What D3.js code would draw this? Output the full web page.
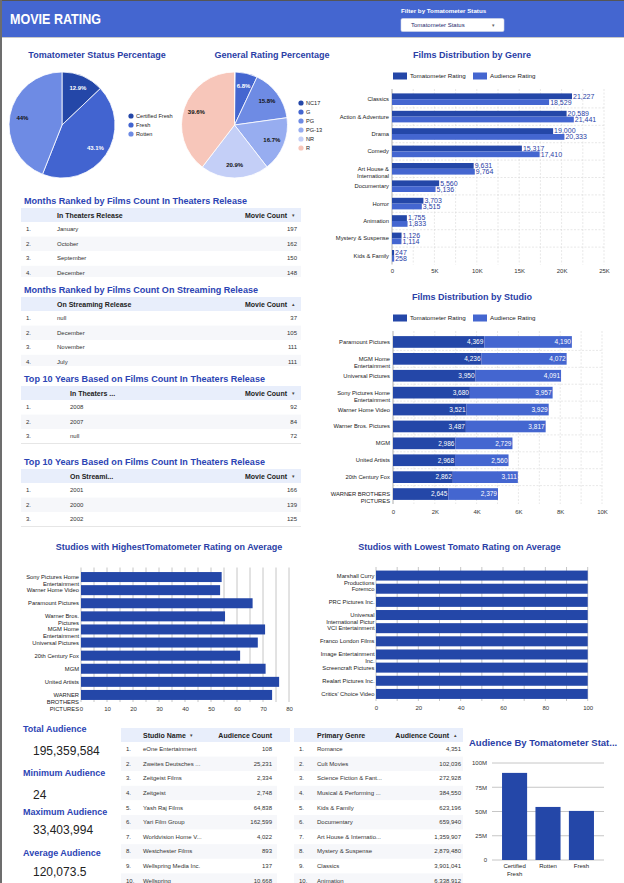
<!DOCTYPE html>
<html>
<head>
<meta charset="utf-8">
<title>Movie Rating</title>
<script src="https://cdn.jsdelivr.net/npm/d3@7"></script>
<style>
  body { margin: 0; background: #fff; }
  svg { display: block; font-family: "Liberation Sans", Arial, sans-serif; }
</style>
</head>
<body>
<div id="dash"></div>
<script>
// ---------- data
const tomatoStatus = ["Certified Fresh", "Fresh", "Rotten"];
const tomatoShare = [12.9, 43.1, 44];

const ratingNames = ["NC17", "G", "PG", "PG-13", "NR", "R"];
const ratingShare = [0.2, 6.8, 15.8, 16.7, 20.9, 39.6];

const genreNames = ["Classics", "Action & Adventure", "Drama", "Comedy", "Art House & International",
  "Documentary", "Horror", "Animation", "Mystery & Suspense", "Kids & Family"];
const genreTomato = [21227, 20589, 19000, 15317, 9631, 5560, 3703, 1755, 1126, 247];
const genreAudience = [18529, 21441, 20333, 17410, 9764, 5136, 3515, 1833, 1114, 258];

const studioNames = ["Paramount Pictures", "MGM Home Entertainment", "Universal Pictures",
  "Sony Pictures Home Entertainment", "Warner Home Video", "Warner Bros. Pictures", "MGM",
  "United Artists", "20th Century Fox", "WARNER BROTHERS PICTURES"];
const studioTomato = [4369, 4236, 3950, 3680, 3521, 3487, 2986, 2968, 2862, 2645];
const studioAudience = [4190, 4072, 4091, 3957, 3929, 3817, 2729, 2560, 3111, 2379];

const theaterMonths = ["January", "October", "September", "December"];
const theaterMonthCount = [197, 162, 150, 148];
const streamMonths = ["null", "December", "November", "July"];
const streamMonthCount = [37, 105, 111, 111];
const theaterYears = ["2008", "2007", "null"];
const theaterYearCount = [92, 84, 72];
const streamYears = ["2001", "2000", "2002"];
const streamYearCount = [166, 139, 125];

const highStudios = ["Sony Pictures Home Entertainment", "Warner Home Video", "Paramount Pictures",
  "Warner Bros. Pictures", "MGM Home Entertainment", "Universal Pictures", "20th Century Fox",
  "MGM", "United Artists", "WARNER BROTHERS PICTURES"];
const highAvg = [54.1, 53.5, 66.0, 55.4, 70.8, 68.0, 61.2, 71.0, 76.2, 73.5];

const lowStudios = ["Marshall Curry Productions", "Foremco", "PRC Pictures Inc.",
  "Universal International Pictur", "VCI Entertainment", "Franco London Films",
  "Image Entertainment Inc.", "Screencraft Pictures", "Realart Pictures Inc.", "Critics' Choice Video"];
const lowAvg = [100, 100, 100, 100, 100, 100, 100, 100, 100, 100];

const kpiNames = ["Total Audience", "Minimum Audience", "Maximum Audience", "Average Audience"];
const kpiValues = [195359584, 24, 33403994, 120073.5];

const tableStudios = ["eOne Entertainment", "Zweites Deutsches ...", "Zeitgeist Films", "Zeitgeist",
  "Yash Raj Films", "Yari Film Group", "Worldvision Home V...", "Westchester Films",
  "Wellspring Media Inc.", "Wellspring"];
const tableStudioAudience = [108, 25231, 2334, 2748, 64838, 162599, 4022, 893, 137, 10668];

const tableGenres = ["Romance", "Cult Movies", "Science Fiction & Fant...", "Musical & Performing ...",
  "Kids & Family", "Documentary", "Art House & Internatio...", "Mystery & Suspense", "Classics", "Animation"];
const tableGenreAudience = [4351, 102036, 272928, 384550, 623196, 659940, 1359907, 2879480, 3901041, 6338912];

const audStatus = ["Certified Fresh", "Rotten", "Fresh"];
const audValues = [89.8e6, 54.7e6, 50.6e6];

// ---------- setup
const svg = d3.select("#dash").append("svg").attr("width", 624).attr("height", 883);
const dark = "#2447a8", light = "#4466d0";
const chartTitle = "#2a3ea6", tableTitle = "#2c44b4";
const fmt = d3.format(",");

function wrap(sel, width, lh) {
  sel.each(function () {
    const t = d3.select(this);
    const words = t.text().split(/\s+/);
    const x = t.attr("x"), y = +t.attr("y");
    t.text(null);
    let line = [], n = 0;
    let ts = t.append("tspan").attr("x", x).attr("y", y);
    for (const w of words) {
      line.push(w);
      ts.text(line.join(" "));
      if (line.length > 1 && ts.node().getComputedTextLength() > width) {
        line.pop();
        ts.text(line.join(" "));
        line = [w];
        n++;
        ts = t.append("tspan").attr("x", x).attr("y", y + n * lh).text(w);
      }
    }
  });
}

function title(x, y, txt, anchor) {
  svg.append("text").attr("x", x).attr("y", y).attr("text-anchor", anchor || "middle")
    .attr("font-size", 9).attr("font-weight", "bold").attr("fill", chartTitle).text(txt);
}

function cleanAxis(g) {
  g.attr("font-family", null).attr("color", "#333");
  g.select(".domain").remove();
  g.selectAll("text").attr("font-size", 6);
}

// ---------- header
svg.append("rect").attr("width", 624).attr("height", 37).attr("fill", light);
svg.append("rect").attr("y", 37).attr("width", 624).attr("height", 1).attr("fill", "#c8c8c8");
svg.append("rect").attr("width", 624).attr("height", 1).attr("fill", "#555");
svg.append("rect").attr("width", 2).attr("height", 883).attr("fill", "#6d6d6d");
svg.append("text").attr("x", 10).attr("y", 24).attr("fill", "#fff").attr("font-size", 15)
  .attr("font-weight", "bold").attr("textLength", 91).attr("lengthAdjust", "spacingAndGlyphs").text("MOVIE RATING");
svg.append("text").attr("x", 401).attr("y", 13).attr("fill", "#fff").attr("font-size", 6.2)
  .attr("font-weight", "bold").text("Filter by Tomatometer Status");
svg.append("rect").attr("x", 401).attr("y", 18.5).attr("width", 103).attr("height", 13).attr("rx", 1.5)
  .attr("fill", "#fff").attr("stroke", "#d5d9e6").attr("stroke-width", 0.6);
svg.append("text").attr("x", 411).attr("y", 27.3).attr("fill", "#1c2a6e").attr("font-size", 6).text("Tomatometer Status");
svg.append("text").attr("x", 492).attr("y", 27).attr("fill", "#666").attr("font-size", 5).text("▾");

// ---------- pies
function pie(cx, cy, r, names, vals, colors, textCol, legX, legY, legStep) {
  const g = svg.append("g").attr("transform", `translate(${cx},${cy})`);
  const arcs = d3.pie().sort(null).value(d => d)(vals);
  const arc = d3.arc().innerRadius(0).outerRadius(r);
  const lab = d3.arc().innerRadius(r * 0.76).outerRadius(r * 0.76);
  g.selectAll("path").data(arcs).join("path")
    .attr("d", arc).attr("fill", (d, i) => colors[i]).attr("stroke", "#fff").attr("stroke-width", 0.8);
  g.selectAll("text").data(arcs.filter(d => d.data >= 1)).join("text")
    .attr("transform", d => `translate(${lab.centroid(d)})`)
    .attr("text-anchor", "middle").attr("dy", "0.35em").attr("font-size", 6).attr("font-weight", "bold")
    .attr("fill", d => textCol[d.index]).text(d => d.data + "%");
  const lg = svg.append("g");
  names.forEach((n, i) => {
    lg.append("circle").attr("cx", legX).attr("cy", legY + i * legStep).attr("r", 2.6).attr("fill", colors[i]);
    lg.append("text").attr("x", legX + 5).attr("y", legY + i * legStep + 2).attr("font-size", 5.6)
      .attr("fill", "#222").text(n);
  });
}

title(97, 58, "Tomatometer Status Percentage");
pie(62, 125, 53, tomatoStatus, tomatoShare, [dark, "#4264d0", "#6e8be4"], ["#fff", "#fff", "#111"], 131, 116, 9);

title(272, 58, "General Rating Percentage");
pie(234.5, 125, 53, ratingNames, ratingShare,
  [dark, light, "#6e8be4", "#97adf0", "#c4cff7", "#f7c6ba"],
  ["#fff", "#fff", "#111", "#111", "#111", "#111"], 301, 103, 9);

// ---------- grouped / stacked horizontal bars
function legend2(y) {
  [["Tomatometer Rating", dark, 393], ["Audience Rating", light, 473]].forEach(([t, c, x]) => {
    svg.append("rect").attr("x", x).attr("y", y - 3.5).attr("width", 14).attr("height", 7).attr("fill", c);
    svg.append("text").attr("x", x + 17).attr("y", y + 2.2).attr("font-size", 6.2).attr("fill", "#222").text(t);
  });
}

function dashedGrid(x, y, ticks, top, bottom, left, right) {
  const g = svg.append("g").attr("stroke", "#d6d6d6").attr("stroke-width", 0.6).attr("stroke-dasharray", "2,1.5");
  g.selectAll("line.v").data(ticks).join("line").attr("class", "v")
    .attr("x1", d => x(d)).attr("x2", d => x(d)).attr("y1", top).attr("y2", bottom);
  g.selectAll("line.h").data(y.domain().slice(1)).join("line").attr("class", "h")
    .attr("x1", left).attr("x2", right).attr("y1", d => y(d)).attr("y2", d => y(d));
  svg.append("line").attr("x1", left).attr("x2", left).attr("y1", top).attr("y2", bottom)
    .attr("stroke", "#999").attr("stroke-width", 0.8);
}

function yLabels(y, names, xr, maxW) {
  svg.append("g").selectAll("text").data(names).join("text")
    .attr("x", xr).attr("y", d => y(d) + y.bandwidth() / 2 + 2)
    .attr("text-anchor", "end").attr("font-size", 5.8).attr("fill", "#222").text(d => d)
    .call(wrap, maxW, 7);
}

// Films Distribution by Genre
title(472, 58, "Films Distribution by Genre");
legend2(76);
{
  const x = d3.scaleLinear().domain([0, 25000]).range([392, 604]);
  const y = d3.scaleBand().domain(genreNames).range([90.5, 264.5]);
  const bh = 5.8;
  dashedGrid(x, y, d3.range(2500, 25001, 2500), 89, 264.5, 392, 604);
  const rows = svg.append("g").selectAll("g").data(genreNames).join("g");
  rows.append("rect").attr("x", x(0)).attr("y", d => y(d) + y.bandwidth() / 2 - bh)
    .attr("width", (d, i) => x(genreTomato[i]) - x(0)).attr("height", bh).attr("fill", dark);
  rows.append("rect").attr("x", x(0)).attr("y", d => y(d) + y.bandwidth() / 2)
    .attr("width", (d, i) => x(genreAudience[i]) - x(0)).attr("height", bh).attr("fill", light);
  rows.append("text").attr("x", (d, i) => x(genreTomato[i]) + 1).attr("y", d => y(d) + y.bandwidth() / 2 - 0.6)
    .attr("font-size", 7).attr("fill", chartTitle).text((d, i) => fmt(genreTomato[i]));
  rows.append("text").attr("x", (d, i) => x(genreAudience[i]) + 1).attr("y", d => y(d) + y.bandwidth() / 2 + 5.4)
    .attr("font-size", 7).attr("fill", chartTitle).text((d, i) => fmt(genreAudience[i]));
  yLabels(y, genreNames, 389, 58);
  svg.append("g").attr("transform", "translate(0,264)")
    .call(d3.axisBottom(x).tickValues(d3.range(0, 25001, 5000)).tickFormat(d => d ? d / 1000 + "K" : "0").tickSize(0).tickPadding(5))
    .call(cleanAxis);
}

// Films Distribution by Studio
title(472, 300, "Films Distribution by Studio");
legend2(318);
{
  const x = d3.scaleLinear().domain([0, 10000]).range([393, 602]);
  const y = d3.scaleBand().domain(studioNames).range([333.5, 502.5]);
  const bh = 11.7;
  dashedGrid(x, y, d3.range(1000, 10001, 1000), 331, 504, 393, 602);
  const rows = svg.append("g").selectAll("g").data(studioNames).join("g");
  rows.append("rect").attr("x", x(0)).attr("y", d => y(d) + y.bandwidth() / 2 - bh / 2)
    .attr("width", (d, i) => x(studioTomato[i]) - x(0)).attr("height", bh).attr("fill", dark);
  rows.append("rect").attr("x", (d, i) => x(studioTomato[i])).attr("y", d => y(d) + y.bandwidth() / 2 - bh / 2)
    .attr("width", (d, i) => x(studioTomato[i] + studioAudience[i]) - x(studioTomato[i])).attr("height", bh).attr("fill", light);
  rows.append("text").attr("x", (d, i) => x(studioTomato[i]) - 1).attr("y", d => y(d) + y.bandwidth() / 2 + 2.3)
    .attr("text-anchor", "end").attr("font-size", 6.5).attr("fill", "#fff").text((d, i) => fmt(studioTomato[i]));
  rows.append("text").attr("x", (d, i) => x(studioTomato[i] + studioAudience[i]) - 1).attr("y", d => y(d) + y.bandwidth() / 2 + 2.3)
    .attr("text-anchor", "end").attr("font-size", 6.5).attr("fill", "#fff").text((d, i) => fmt(studioAudience[i]));
  yLabels(y, studioNames, 390, 62);
  svg.append("g").attr("transform", "translate(0,504)")
    .call(d3.axisBottom(x).tickValues(d3.range(0, 10001, 2000)).tickFormat(d => d ? d / 1000 + "K" : "0").tickSize(0).tickPadding(5.5))
    .call(cleanAxis);
}

// ---------- tables
function table(c) {
  const g = svg.append("g");
  if (c.title) g.append("text").attr("x", c.x + 3).attr("y", c.top - 4.5).attr("fill", tableTitle)
    .attr("font-size", 9.8).attr("font-weight", "bold").attr("textLength", c.titleW).attr("lengthAdjust", "spacingAndGlyphs").text(c.title);
  const id = "clip" + Math.round(c.top) + "_" + c.x;
  svg.append("clipPath").attr("id", id).append("rect").attr("x", c.x).attr("y", c.top)
    .attr("width", c.w).attr("height", c.bottom - c.top);
  const b = g.append("g").attr("clip-path", `url(#${id})`);
  b.append("rect").attr("x", c.x).attr("y", c.top).attr("width", c.w).attr("height", 14).attr("fill", "#e8eefb");
  b.append("text").attr("x", c.nameX).attr("y", c.top + 9.5).attr("font-size", 7).attr("font-weight", "bold")
    .attr("fill", "#222").text(c.head1);
  b.append("text").attr("x", c.headValX).attr("y", c.top + 9.5).attr("text-anchor", "end").attr("font-size", 7)
    .attr("font-weight", "bold").attr("fill", "#222").text(c.head2);
  if (c.arrowX) b.append("text").attr("x", c.arrowX).attr("y", c.top + 9.3).attr("text-anchor", "middle")
    .attr("font-size", 5).attr("fill", "#444").text(c.arrow);
  const rows = b.selectAll("g.row").data(c.names).join("g").attr("class", "row")
    .attr("transform", (d, i) => `translate(0,${c.top + 14 + i * 14.6})`);
  rows.append("rect").attr("x", c.x).attr("width", c.rowW).attr("height", 14.6)
    .attr("fill", (d, i) => i % 2 ? "#f6f7fa" : "#fff");
  rows.append("text").attr("x", c.numX).attr("y", 9.3).attr("font-size", 6).attr("fill", "#333").text((d, i) => (i + 1) + ".");
  rows.append("text").attr("x", c.nameX).attr("y", 9.3).attr("font-size", 6).attr("fill", "#333").text(d => d);
  rows.append("text").attr("x", c.valX).attr("y", 9.3).attr("text-anchor", "end").attr("font-size", 6)
    .attr("fill", "#333").text((d, i) => fmt(c.vals[i]));
  if (c.line) b.append("line").attr("x1", c.x).attr("x2", c.x + c.w).attr("y1", c.bottom - 0.5).attr("y2", c.bottom - 0.5)
    .attr("stroke", "#e6e6e6");
}

table({ x: 21, w: 280, rowW: 280, top: 208, bottom: 277, title: "Months Ranked by Films Count In Theaters Release", titleW: 223,
  head1: "In Theaters Release", head2: "Movie Count", arrow: "▾", arrowX: 293, headValX: 287,
  names: theaterMonths, vals: theaterMonthCount, numX: 26, nameX: 57, valX: 297 });
table({ x: 21, w: 280, rowW: 280, top: 297, bottom: 366, title: "Months Ranked by Films Count On Streaming Release", titleW: 234,
  head1: "On Streaming Release", head2: "Movie Count", arrow: "▴", arrowX: 293, headValX: 287,
  names: streamMonths, vals: streamMonthCount, numX: 26, nameX: 57, valX: 297 });
table({ x: 21, w: 280, rowW: 280, top: 386, bottom: 444, line: true, title: "Top 10 Years Based on Films Count In Theaters Release", titleW: 241,
  head1: "In Theaters ...", head2: "Movie Count", arrow: "▾", arrowX: 293, headValX: 287,
  names: theaterYears, vals: theaterYearCount, numX: 26, nameX: 70, valX: 297 });
table({ x: 21, w: 280, rowW: 280, top: 469, bottom: 527, line: true, title: "Top 10 Years Based on Films Count In Theaters Release", titleW: 241,
  head1: "On Streami...", head2: "Movie Count", arrow: "▾", arrowX: 293, headValX: 287,
  names: streamYears, vals: streamYearCount, numX: 26, nameX: 70, valX: 297 });

// ---------- studios with highest / lowest average rating
function solidBars(names, vals, x, y, ticks, gridTicks, top, bottom, color, labelX, maxW) {
  svg.append("g").selectAll("line").data(gridTicks).join("line")
    .attr("x1", d => x(d)).attr("x2", d => x(d)).attr("y1", top).attr("y2", bottom)
    .attr("stroke", "#b8b8b8").attr("stroke-width", 0.8);
  svg.append("g").selectAll("rect").data(names).join("rect")
    .attr("x", x(0)).attr("y", d => y(d) + y.bandwidth() / 2 - 5)
    .attr("width", (d, i) => x(vals[i]) - x(0)).attr("height", 10).attr("fill", color);
  yLabels(y, names, labelX, maxW);
  svg.append("g").attr("transform", `translate(0,${bottom})`)
    .call(d3.axisBottom(x).tickValues(ticks).tickSize(0).tickPadding(5))
    .call(cleanAxis);
}

title(169, 550, "Studios with HighestTomatometer Rating on Average");
{
  const x = d3.scaleLinear().domain([0, 80]).range([81, 289]);
  const y = d3.scaleBand().domain(highStudios).range([570.5, 701.5]);
  solidBars(highStudios, highAvg, x, y, d3.range(0, 81, 10), d3.range(0, 81, 5), 567.5, 702, dark, 79, 56.3);
}

title(459.5, 550, "Studios with Lowest Tomato Rating on Average");
{
  const x = d3.scaleLinear().domain([0, 100]).range([376, 587.7]);
  const y = d3.scaleBand().domain(lowStudios).range([569, 700.5]);
  solidBars(lowStudios, lowAvg, x, y, d3.range(0, 101, 20), d3.range(0, 101, 10), 567, 701, dark, 374.5, 57.4);
}

// ---------- KPI cards
kpiNames.forEach((n, i) => {
  const y0 = [732, 776, 815, 856][i];
  svg.append("text").attr("x", 23).attr("y", y0).attr("font-size", 9).attr("font-weight", "bold")
    .attr("fill", tableTitle).text(n);
  svg.append("text").attr("x", 33).attr("y", [755, 799, 834, 876][i]).attr("font-size", 12)
    .attr("fill", "#222").text(fmt(kpiValues[i]));
});

// ---------- bottom tables
table({ x: 121, w: 169, rowW: 156, top: 728, bottom: 883,
  head1: "Studio Name", head2: "Audience Count", arrow: "▾", arrowX: 191, headValX: 272,
  names: tableStudios, vals: tableStudioAudience, numX: 126, nameX: 143, valX: 272 });
table({ x: 294, w: 169, rowW: 169, top: 728, bottom: 883,
  head1: "Primary Genre", head2: "Audience Count", arrow: "▴", arrowX: 455, headValX: 449,
  names: tableGenres, vals: tableGenreAudience, numX: 299, nameX: 317, valX: 461 });

// ---------- Audience By Tomatometer Status
svg.append("text").attr("x", 469).attr("y", 746).attr("font-size", 9.5).attr("font-weight", "bold")
  .attr("fill", chartTitle).text("Audience By Tomatometer Stat...");
{
  const y = d3.scaleLinear().domain([0, 100e6]).range([860, 763]);
  const x = d3.scaleBand().domain(audStatus).range([492, 604]).paddingInner(0.25).paddingOuter(0.3);
  svg.append("g").selectAll("line").data(d3.range(0, 100e6 + 1, 25e6)).join("line")
    .attr("x1", 492).attr("x2", 604).attr("y1", d => y(d)).attr("y2", d => y(d))
    .attr("stroke", "#b8b8b8").attr("stroke-width", 0.8);
  svg.append("g").selectAll("rect").data(audStatus).join("rect")
    .attr("x", d => x(d)).attr("y", (d, i) => y(audValues[i])).attr("width", x.bandwidth())
    .attr("height", (d, i) => y(0) - y(audValues[i])).attr("fill", dark);
  svg.append("g").attr("transform", "translate(492,0)")
    .call(d3.axisLeft(y).tickValues(d3.range(0, 100e6 + 1, 25e6)).tickFormat(d => d ? d / 1e6 + "M" : "0").tickSize(0).tickPadding(5))
    .call(cleanAxis);
  svg.append("g").selectAll("text").data(audStatus).join("text")
    .attr("x", d => x(d) + x.bandwidth() / 2).attr("y", 868).attr("text-anchor", "middle")
    .attr("font-size", 6).attr("fill", "#222").text(d => d).call(wrap, 30, 8);
}
</script>
</body>
</html>
